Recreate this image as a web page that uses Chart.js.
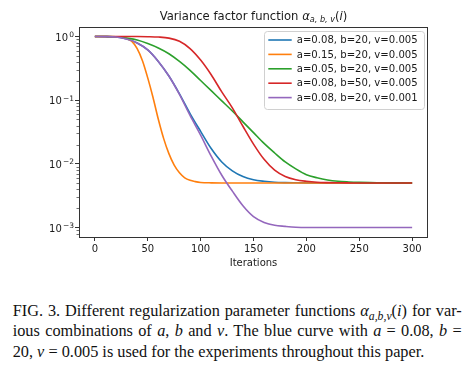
<!DOCTYPE html>
<html>
<head>
<meta charset="utf-8">
<script src="https://cdn.jsdelivr.net/npm/chart.js@4.4.0/dist/chart.umd.min.js"></script>
<style>
  body { margin: 0; background: #fff; }
  #page { position: relative; width: 474px; height: 369px; overflow: hidden; background: #fff; }
  #chart { position: absolute; left: 0; top: 0; }
  #title { position: absolute; left: 0; top: 9px; width: 507px; text-align: center; font-family: "DejaVu Sans"; font-size: 11.6px; line-height: 14px; color: #1a1a1a; white-space: nowrap; }
  #title sub { font-size: 70%; vertical-align: -0.3em; line-height: 0; }
  .cap { position: absolute; left: 12.7px; font-family: "Liberation Serif"; font-size: 16.3px; line-height: 20px; color: #111; white-space: nowrap; }
  .cap sub { font-size: 72%; vertical-align: -0.3em; line-height: 0; }
</style>
</head>
<body>
<div id="page">
  <canvas id="chart" width="474" height="272"></canvas>
  <div id="title">Variance factor function <i>α</i><sub><i>a, b, v</i></sub>(<i>i</i>)</div>
  <div class="cap just" style="top:301px"><span>FIG. 3. Different regularization parameter functions <i>α</i><sub><i>a,b,v</i></sub>(<i>i</i>) for var-</span></div>
  <div class="cap just" style="top:321px"><span>ious combinations of <i>a</i>, <i>b</i> and <i>v</i>. The blue curve with <i>a</i> = 0.08, <i>b</i> =</span></div>
  <div class="cap" style="top:341.5px"><span>20, <i>v</i> = 0.005 is used for the experiments throughout this paper.</span></div>
</div>
<script>
// valores (eje y logaritmico)
const iterations = [0, 10, 20, 30, 40, 50, 60, 70, 80, 90, 100, 110, 120, 130, 140, 150,
  160, 170, 180, 190, 200, 210, 220, 230, 240, 250, 260, 270, 280, 290, 300];

const seriesLabels = [
  "a=0.08, b=20, v=0.005",
  "a=0.15, b=20, v=0.005",
  "a=0.05, b=20, v=0.005",
  "a=0.08, b=50, v=0.005",
  "a=0.08, b=20, v=0.001"
];
const seriesColors = ["#1f77b4", "#ff7f0e", "#2ca02c", "#d62728", "#9467bd"];

const blueValues = [1, 0.998, 0.982, 0.912, 0.794, 0.617, 0.407, 0.240, 0.126, 0.0617, 0.0324,
  0.0174, 0.0107, 0.00776, 0.00631, 0.00562, 0.00531, 0.00513, 0.00506, 0.00503, 0.00501,
  0.005, 0.005, 0.005, 0.005, 0.005, 0.005, 0.005, 0.005, 0.005, 0.005];

// la naranja cae rapido, necesita mas puntos
const orangeIterations = [0, 10, 20, 25, 30, 35, 40, 45, 50, 55, 60, 65, 70, 75, 80, 85, 90, 95,
  100, 110, 120, 150, 200, 250, 300];
const orangeValues = [1, 1, 0.993, 0.973, 0.933, 0.841, 0.646, 0.417, 0.224, 0.110, 0.0501,
  0.0251, 0.01445, 0.00955, 0.00724, 0.00603, 0.00550, 0.00525, 0.00510, 0.00502, 0.005,
  0.005, 0.005, 0.005, 0.005];

const greenValues = [1, 0.999, 0.991, 0.944, 0.881, 0.776, 0.661, 0.537, 0.407, 0.295, 0.204,
  0.141, 0.0977, 0.0676, 0.0457, 0.0309, 0.0209, 0.0148, 0.0107, 0.00832, 0.00676,
  0.00603, 0.00556, 0.00531, 0.00519, 0.00511, 0.00506, 0.00504, 0.00502, 0.00501, 0.005];

const redValues = [1, 1, 1, 1, 1, 0.995, 0.982, 0.944, 0.841, 0.646, 0.427, 0.251, 0.135,
  0.0759, 0.0389, 0.0204, 0.01175, 0.00794, 0.00631, 0.00562, 0.00531, 0.00513, 0.00506,
  0.00503, 0.00501, 0.005, 0.005, 0.005, 0.005, 0.005, 0.005];

const purpleValues = [1, 0.998, 0.982, 0.912, 0.794, 0.617, 0.407, 0.240, 0.123, 0.0575, 0.0282,
  0.0132, 0.00661, 0.00372, 0.00219, 0.00148, 0.00120, 0.00108, 0.00104, 0.00101, 0.001,
  0.001, 0.001, 0.001, 0.001, 0.001, 0.001, 0.001, 0.001, 0.001, 0.001];

const xTickValues = [0, 50, 100, 150, 200, 250, 300];
const yTickValues = [0.001, 0.01, 0.1, 1];
const yTickExponents = ["−3", "−2", "−1", "0"];

const toPoints = (xs, ys) => xs.map((x, k) => ({ x, y: ys[k] }));

const curves = [
  toPoints(iterations, blueValues),
  toPoints(orangeIterations, orangeValues),
  toPoints(iterations, greenValues),
  toPoints(iterations, redValues),
  toPoints(iterations, purpleValues)
];

const axisColor = "#333";
const textColor = "#1a1a1a";

// marco completo, ticks menores, etiquetas 10^n y leyenda estilo matplotlib
const extras = {
  id: "extras",
  afterDraw(chart) {
    const { ctx, chartArea: a, scales } = chart;
    ctx.save();

    // ticks menores del eje log
    ctx.strokeStyle = axisColor;
    ctx.lineWidth = 0.7;
    for (let k = -4; k <= 0; k++) {
      for (let m = 2; m <= 9; m++) {
        const v = m * Math.pow(10, k);
        if (v < scales.y.min || v > scales.y.max) continue;
        const py = Math.round(scales.y.getPixelForValue(v)) + 0.5;
        ctx.beginPath();
        ctx.moveTo(a.left - 2.5, py);
        ctx.lineTo(a.left, py);
        ctx.stroke();
      }
    }

    // etiquetas del eje y con exponente
    ctx.fillStyle = textColor;
    ctx.textAlign = "left";
    ctx.textBaseline = "alphabetic";
    yTickValues.forEach((v, k) => {
      const py = scales.y.getPixelForValue(v);
      ctx.font = "7.5px 'DejaVu Sans'";
      const ew = ctx.measureText(yTickExponents[k]).width;
      ctx.font = "10px 'DejaVu Sans'";
      const bw = ctx.measureText("10").width;
      const right = a.left - 5;
      const x0 = right - ew - 1.2 - bw;
      ctx.fillText("10", x0, py + 4.3);
      ctx.font = "7.5px 'DejaVu Sans'";
      ctx.fillText(yTickExponents[k], x0 + bw + 1.2, py + 0.4);
    });

    // marco
    ctx.strokeStyle = axisColor;
    ctx.lineWidth = 1;
    ctx.strokeRect(Math.round(a.left) + 0.5, Math.round(a.top) + 0.5,
      Math.round(a.right - a.left) - 1, Math.round(a.bottom - a.top));

    // etiqueta eje x
    ctx.fillStyle = textColor;
    ctx.font = "10px 'DejaVu Sans'";
    ctx.textAlign = "center";
    ctx.fillText("Iterations", (a.left + a.right) / 2, 265.5);

    // leyenda
    const bw = 160, bh = 78;
    const bx = a.right - 4 - bw, by = a.top + 4;
    ctx.beginPath();
    ctx.roundRect(bx + 0.5, by + 0.5, bw, bh, 3);
    ctx.fillStyle = "rgba(255,255,255,0.8)";
    ctx.fill();
    ctx.strokeStyle = "#d0d0d0";
    ctx.lineWidth = 1;
    ctx.stroke();

    ctx.textAlign = "left";
    ctx.textBaseline = "middle";
    ctx.font = "10.1px 'DejaVu Sans'";
    seriesLabels.forEach((label, k) => {
      const ry = by + 9 + k * 14.4;
      ctx.strokeStyle = seriesColors[k];
      ctx.lineWidth = 1.6;
      ctx.beginPath();
      ctx.moveTo(bx + 4.3, ry);
      ctx.lineTo(bx + 27.7, ry);
      ctx.stroke();
      ctx.fillStyle = textColor;
      ctx.fillText(label, bx + 32.7, ry + 0.5);
    });
    ctx.restore();
  }
};

new Chart(document.getElementById("chart"), {
  type: "line",
  data: {
    datasets: curves.map((pts, k) => ({
      label: seriesLabels[k],
      data: pts,
      borderColor: seriesColors[k],
      backgroundColor: seriesColors[k],
      borderWidth: 1.6,
      pointRadius: 0,
      fill: false,
      cubicInterpolationMode: "monotone",
      order: 5 - k
    }))
  },
  options: {
    responsive: false,
    animation: false,
    devicePixelRatio: 1,
    layout: { padding: { left: 0, top: 27, right: 46, bottom: 0 } },
    plugins: { legend: { display: false }, title: { display: false }, tooltip: { enabled: false } },
    scales: {
      x: {
        type: "linear",
        min: -15,
        max: 315,
        afterBuildTicks: s => { s.ticks = xTickValues.map(v => ({ value: v })); },
        afterFit: s => { s.height = 35; },
        border: { display: false },
        grid: { drawOnChartArea: false, drawTicks: true, tickLength: 4, color: axisColor, lineWidth: 1 },
        ticks: { color: textColor, font: { family: "DejaVu Sans", size: 10 }, padding: 2, maxRotation: 0, autoSkip: false }
      },
      y: {
        type: "logarithmic",
        min: Math.pow(10, -3.15),
        max: Math.pow(10, 0.15),
        afterBuildTicks: s => { s.ticks = yTickValues.map(v => ({ value: v })); },
        afterFit: s => { s.width = 79; },
        border: { display: false },
        grid: { drawOnChartArea: false, drawTicks: true, tickLength: 4, color: axisColor, lineWidth: 1 },
        ticks: { display: true, color: "rgba(0,0,0,0)", autoSkip: false, callback: () => "" }
      }
    }
  },
  plugins: [extras]
});

// justificar las dos primeras lineas del pie de figura
document.fonts.ready.then(() => {
  document.querySelectorAll(".just").forEach(el => {
    const span = el.firstElementChild;
    const gaps = (span.textContent.match(/ /g) || []).length;
    const extra = 449 - span.getBoundingClientRect().width;
    el.style.wordSpacing = (extra / gaps) + "px";
  });
});
</script>
</body>
</html>
